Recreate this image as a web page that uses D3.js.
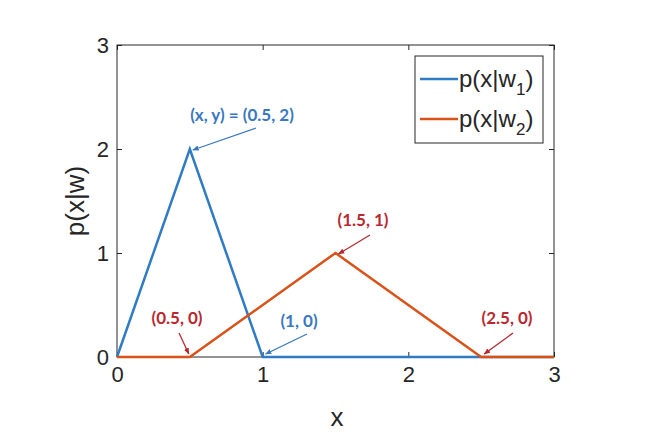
<!DOCTYPE html><html><head><meta charset="utf-8">
<script src="https://cdn.jsdelivr.net/npm/d3@7"></script>
<style>body{margin:0;background:#fff}svg{font-family:"Liberation Sans",Arial,sans-serif}</style></head><body>
<script>
const xTicks=[0,1,2,3], yTicks=[0,1,2,3];
const w1X=[0,0.5,1,3], w1Y=[0,2,0,0];
const w2X=[0,0.5,1.5,2.5,3], w2Y=[0,0,1,0,0];
const seriesNames=["p(x|w","p(x|w"], seriesSubs=["1","2"];
const colors=["#2f7bc4","#d95319"];
const annTexts=["(x, y) = (0.5, 2)","(1.5, 1)","(0.5, 0)","(1, 0)","(2.5, 0)"];
const annPts=[[0.5,2],[1.5,1],[0.5,0],[1,0],[2.5,0]];
const annColor=["#3a78c0","#b8282e","#b8282e","#3a78c0","#b8282e"];
const W=646,H=448;
const svg=d3.select("body").append("svg").attr("width",W).attr("height",H);
const x=d3.scaleLinear().domain([0,3]).range([117,554]);
const y=d3.scaleLinear().domain([0,3]).range([357,45]);
svg.append("rect").attr("x",117).attr("y",45).attr("width",437).attr("height",312).attr("fill","none").attr("stroke","#262626");
svg.append("g").attr("transform","translate(0,357)").call(d3.axisBottom(x).tickValues(xTicks).tickSize(-5).tickPadding(9).tickFormat(d3.format("d")));
svg.append("g").attr("transform","translate(117,0)").call(d3.axisLeft(y).tickValues(yTicks).tickSize(-5).tickPadding(8).tickFormat(d3.format("d")));
svg.append("g").attr("transform","translate(0,45)").call(d3.axisTop(x).tickValues(xTicks).tickSize(-5).tickFormat(""));
svg.append("g").attr("transform","translate(554,0)").call(d3.axisRight(y).tickValues(yTicks).tickSize(-5).tickFormat(""));
svg.selectAll(".domain").remove();
svg.selectAll(".tick line").attr("stroke","#262626");
svg.selectAll(".tick text").attr("font-size",22).attr("fill","#262626").attr("font-family","Liberation Sans, Arial");
const line=d3.line().x(d=>x(d[0])).y(d=>y(d[1]));
[[w1X,w1Y],[w2X,w2Y]].forEach((s,i)=>{
 svg.append("path").attr("d",line(s[0].map((v,j)=>[v,s[1][j]]))).attr("fill","none").attr("stroke",colors[i]).attr("stroke-width",2.5);
});
svg.append("text").attr("x",337).attr("y",426).attr("text-anchor","middle").attr("font-size",26).attr("fill","#262626").text("x");
svg.append("text").attr("transform","translate(84,201) rotate(-90)").attr("text-anchor","middle").attr("font-size",26).attr("fill","#262626").text("p(x|w)");
svg.append("rect").attr("x",415).attr("y",56).attr("width",128).attr("height",87).attr("fill","#fff").attr("stroke","#262626");
seriesNames.forEach((n,i)=>{
 const yy=79+i*40;
 svg.append("line").attr("x1",420).attr("x2",458).attr("y1",yy).attr("y2",yy).attr("stroke",colors[i]).attr("stroke-width",2.5);
 const t=svg.append("text").attr("x",459).attr("y",yy+8).attr("font-size",24).attr("fill","#262626");
 t.append("tspan").text(n);
 t.append("tspan").attr("font-size",17).attr("dy",8).text(seriesSubs[i]);
 t.append("tspan").attr("dy",-8).text(")");
});
const lblPos=[[242,121],[363,226],[177,324],[299,327],[507,324]];
const arrFrom=[[256,128],[370,235],[179,333],[307,334],[513,333]];
const defs=svg.append("defs");
annColor.forEach((c,i)=>{
 defs.append("marker").attr("id","m"+i).attr("viewBox","0 0 10 10").attr("refX",9).attr("refY",5).attr("markerWidth",5).attr("markerHeight",5).attr("orient","auto")
  .append("path").attr("d","M0,1L10,5L0,9z").attr("fill",c);
 const p=annPts[i], tx=x(p[0])+ (i==2?-1:3), ty=y(p[1])+(p[1]>0?1:-3);
 svg.append("line").attr("x1",arrFrom[i][0]).attr("y1",arrFrom[i][1]).attr("x2",tx).attr("y2",ty).attr("stroke",c).attr("stroke-width",1.3).attr("marker-end","url(#m"+i+")");
 svg.append("text").attr("x",lblPos[i][0]).attr("y",lblPos[i][1]).attr("text-anchor","middle").attr("font-family","Lato, Open Sans, sans-serif").attr("font-weight","bold").attr("font-size",17).attr("fill",c).text(annTexts[i]);
});
</script></body></html>
